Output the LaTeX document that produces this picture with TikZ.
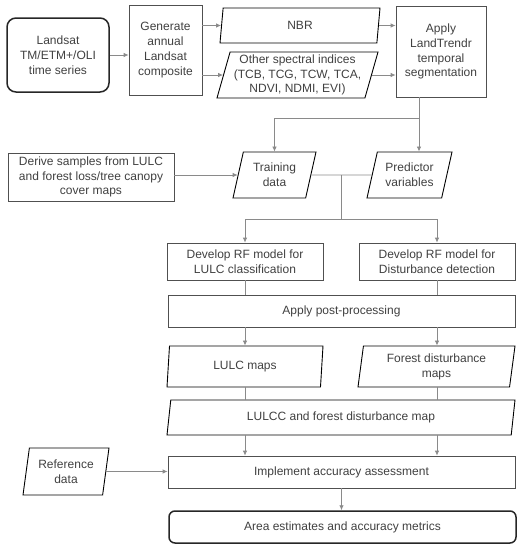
\documentclass[tikz,border=0pt]{standalone}
\usepackage{fontspec}
\setmainfont{Liberation Sans}
\usepackage{tikz}
\usetikzlibrary{shapes.geometric,arrows.meta,calc}
\definecolor{txtgray}{HTML}{404040}
\definecolor{boxgray}{HTML}{505050}
\definecolor{arrgray}{HTML}{8A8A8A}
\tikzset{
  base/.style={align=center, text=txtgray, inner sep=1pt, font=\fontsize{12}{14.8}\selectfont},
  proc/.style={base, draw=boxgray, line width=0.7pt, rectangle},
  term/.style={base, draw=black!85, line width=1.5pt, rectangle, rounded corners=9pt},
  data/.style={base, draw=black, line width=0.9pt, trapezium, trapezium left angle=#1,
    trapezium right angle=180-#1, trapezium stretches body},
  data/.default=73,
  conn/.style={draw=arrgray, line width=0.8pt},
  arr/.style={conn, -{Latex[length=5pt,width=4.5pt]}}
}
\begin{document}
\begin{tikzpicture}[x=1pt,y=-1pt]
\useasboundingbox (0,0) rectangle (526,550);

% first row
\node[term, minimum width=102, minimum height=74] (landsat) at (58,55) {Landsat\\TM/ETM+/OLI\\time series};
\node[proc, minimum width=73, minimum height=90] (generate) at (165.5,50) {Generate\\annual\\Landsat\\composite};
\node[data, minimum width=160, minimum height=35] (nbr) at (300,25.5) {NBR};
\node[data, minimum width=161, minimum height=46] (other) at (297.5,75) {Other spectral indices\\(TCB, TCG, TCW, TCA,\\NDVI, NDMI, EVI)};
\node[proc, minimum width=90, minimum height=91] (apply) at (441,51.5) {Apply\\LandTrendr\\temporal\\segmentation};

% samples and predictors
\node[proc, minimum width=166, minimum height=48] (derive) at (91,177) {Derive samples from LULC\\and forest loss/tree canopy\\cover maps};
\node[data=68, minimum width=83, minimum height=46] (training) at (274.5,175) {Training\\data};
\node[data=68, minimum width=85, minimum height=46] (predictor) at (409.5,175) {Predictor\\variables};

% models
\node[proc, minimum width=156, minimum height=37] (rflulc) at (245,261.5) {Develop RF model for\\LULC classification};
\node[proc, minimum width=156, minimum height=37] (rfdist) at (437,261.5) {Develop RF model for\\Disturbance detection};
\node[proc, minimum width=347, minimum height=32] (post) at (341.5,311) {Apply post-processing};
\node[data=79, minimum width=156, minimum height=41] (lulcmaps) at (245,366.5) {LULC maps};
\node[data=79, minimum width=157, minimum height=41] (forestmaps) at (436.5,366.5) {Forest disturbance\\maps};
\node[data=74, minimum width=348, minimum height=35] (lulcc) at (341,417.5) {LULCC and forest disturbance map};

% assessment
\node[data=76, minimum width=86, minimum height=47] (refdata) at (66,471.5) {Reference\\data};
\node[proc, minimum width=347, minimum height=32] (implement) at (341.5,472) {Implement accuracy assessment};
\node[term, minimum width=347, minimum height=32, rounded corners=6pt] (area) at (342.5,527) {Area estimates and accuracy metrics};

% connectors
\draw[arr] (landsat.east) -- (landsat.east -| generate.west);
\draw[arr] (generate.east |- nbr.west) -- (nbr.west);
\draw[arr] (generate.east |- other.west) -- (other.west);
\draw[arr] (nbr.east) -- (nbr.east -| apply.west);
\draw[arr] (other.east) -- (other.east -| apply.west);

\coordinate (split) at (419,118);
\draw[conn] (apply.south -| split) -- (split);
\draw[arr] (split) -- (split |- predictor.north);
\draw[arr] (split) -| (training.north);
\draw[arr] (derive.east |- training.west) -- (training.west);

\draw[conn] (training.east) -- (predictor.west);
\coordinate (mid) at ($(training.east)!0.5!(predictor.west)$);
\draw[conn] (mid) -- ++(0,44) coordinate (fork);
\draw[arr] (fork) -| (rflulc.north);
\draw[arr] (fork) -| (rfdist.north);

\foreach \n/\m in {rflulc/lulcmaps, rfdist/forestmaps}{
  \draw[conn] (\n.south) -- (\n.south |- post.north);
  \draw[arr] (\n.south |- post.south) -- (\n.south |- \m.north);
  \draw[conn] (\n.south |- \m.south) -- (\n.south |- lulcc.north);
  \draw[arr] (\n.south |- lulcc.south) -- (\n.south |- implement.north);
}
\draw[arr] (refdata.east) -- (refdata.east -| implement.west);
\draw[arr] (implement.south) -- (implement.south |- area.north);
\end{tikzpicture}
\end{document}
